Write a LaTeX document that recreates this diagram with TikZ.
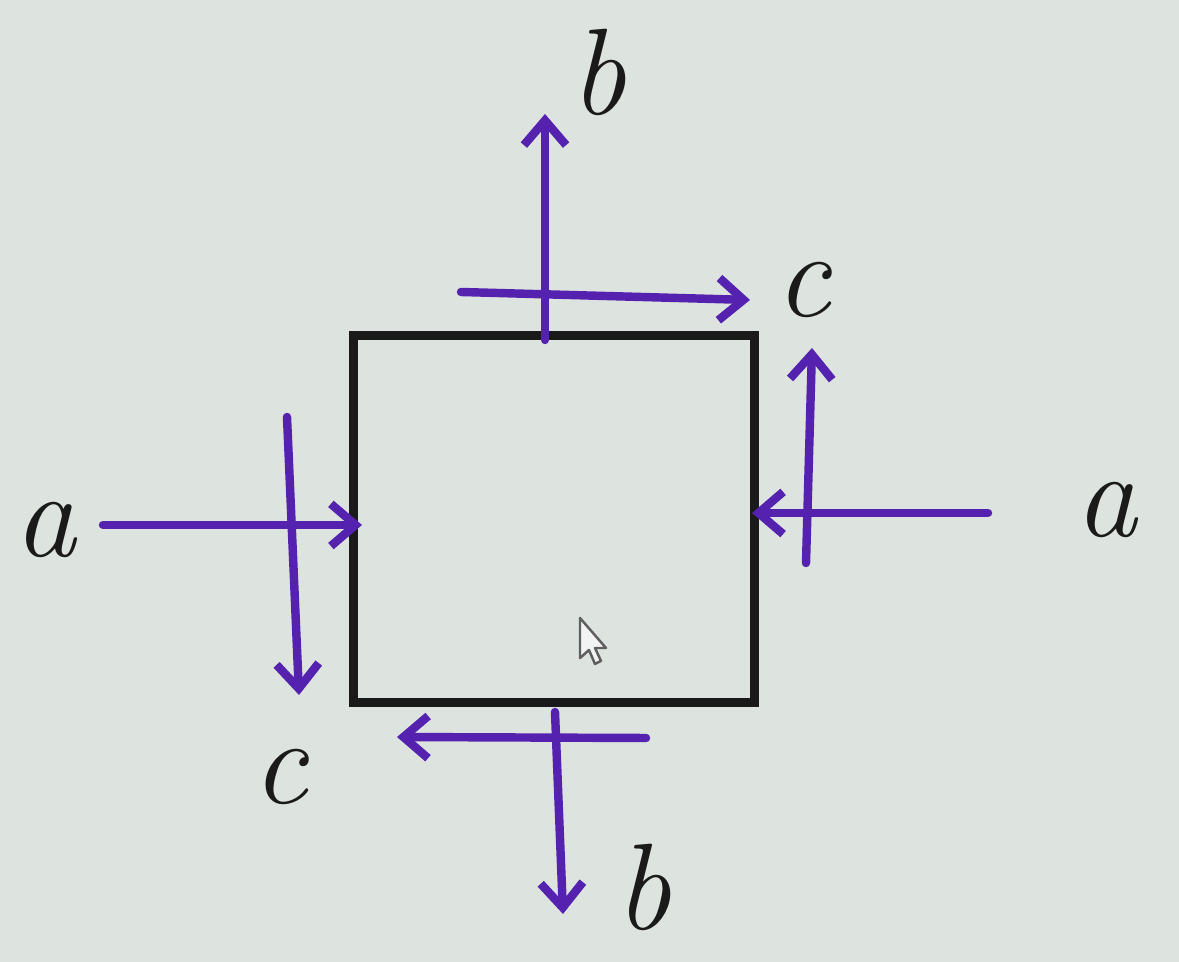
\documentclass[tikz,border=0pt]{standalone}
\usetikzlibrary{arrows.meta}
\definecolor{bgcol}{HTML}{DDE3DE}
\definecolor{vio}{HTML}{5522B0}
\definecolor{ink}{HTML}{1A1A1A}
\tikzset{
  flow/.style={draw=vio, line width=2.4pt, line cap=round,
    -{Straight Barb[length=7pt, width=12pt, line width=2.4pt]}},
  lab/.style={text=ink, font=\fontsize{35}{40}\selectfont\itshape, inner sep=0pt},
  box/.style={draw=ink, line width=2.6pt, rectangle, minimum width=4cm, minimum height=3.67cm, inner sep=0pt}
}
\begin{document}
\begin{tikzpicture}[x=0.01cm, y=-0.01cm]
\fill[bgcol] (0,0) rectangle (1179,962);
\useasboundingbox (0,0) rectangle (1179,962);
% square
\node[box] (sq) at (554,519) {};
% end points
\coordinate (laS) at (103,525); \coordinate (laE) at (362,525);
\coordinate (lcS) at (287,417); \coordinate (lcE) at (299,695);
\coordinate (tbS) at (545,340); \coordinate (tbE) at (545,114);
\coordinate (tcS) at (461,292); \coordinate (tcE) at (750,300);
\coordinate (rcS) at (806,563); \coordinate (rcE) at (812,348);
\coordinate (raS) at (988,513); \coordinate (raE) at (752,513);
\coordinate (bcS) at (646,738); \coordinate (bcE) at (397,737);
\coordinate (bbS) at (555,712); \coordinate (bbE) at (563,914);
% arrows
\draw[flow] (laS) -- (laE);
\draw[flow] (lcS) -- (lcE);
\draw[flow] (tbS) -- (tbE);
\draw[flow] (tcS) -- (tcE);
\draw[flow] (rcS) -- (rcE);
\draw[flow] (raS) -- (raE);
\draw[flow] (bcS) -- (bcE);
\draw[flow] (bbS) -- (bbE);
% labels
\node[lab] (aL) at (45,530) {a};
\node[lab] (aR) at (1106,510) {a};
\node[lab] (bT) at (598,72) {b};
\node[lab] (cT) at (803,290) {c};
\node[lab] (cL) at (280,777) {c};
\node[lab] (bB) at (643,887) {b};
% cursor
\draw[ink!70, line width=0.7pt, fill=white!60!bgcol, line join=round]
  (580,618) -- (580,658) -- (589,650) -- (595,664) -- (601,661) -- (595,648) -- (606,648) -- cycle;
\end{tikzpicture}
\end{document}
